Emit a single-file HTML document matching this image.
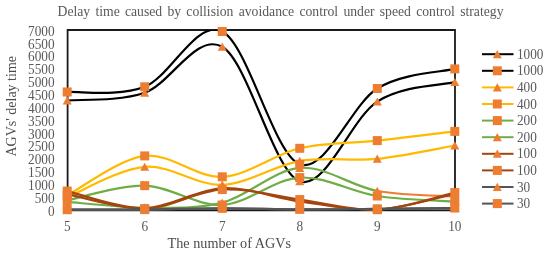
<!DOCTYPE html>
<html><head><meta charset="utf-8"><style>
html,body{margin:0;padding:0;background:#fff;}
svg{display:block;}
text{font-family:"Liberation Serif","Times New Roman",serif;}
</style></head><body>
<svg width="550" height="254" viewBox="0 0 550 254">
<rect width="550" height="254" fill="#fff"/>
<text x="57.5" y="16.1" font-size="13.7" word-spacing="1.8" fill="#595959">Delay time caused by collision avoidance control under speed control strategy</text>
<g font-size="14" fill="#595959" text-anchor="end">
<text transform="translate(54.6,215.80) scale(0.95,1)">0</text>
<text transform="translate(54.6,202.93) scale(0.95,1)">500</text>
<text transform="translate(54.6,190.07) scale(0.95,1)">1000</text>
<text transform="translate(54.6,177.20) scale(0.95,1)">1500</text>
<text transform="translate(54.6,164.34) scale(0.95,1)">2000</text>
<text transform="translate(54.6,151.47) scale(0.95,1)">2500</text>
<text transform="translate(54.6,138.61) scale(0.95,1)">3000</text>
<text transform="translate(54.6,125.74) scale(0.95,1)">3500</text>
<text transform="translate(54.6,112.88) scale(0.95,1)">4000</text>
<text transform="translate(54.6,100.02) scale(0.95,1)">4500</text>
<text transform="translate(54.6,87.15) scale(0.95,1)">5000</text>
<text transform="translate(54.6,74.28) scale(0.95,1)">5500</text>
<text transform="translate(54.6,61.42) scale(0.95,1)">6000</text>
<text transform="translate(54.6,48.55) scale(0.95,1)">6500</text>
<text transform="translate(54.6,35.69) scale(0.95,1)">7000</text>
</g>
<g font-size="14" fill="#595959" text-anchor="middle">
<text transform="translate(67.20,231) scale(0.95,1)">5</text>
<text transform="translate(144.72,231) scale(0.95,1)">6</text>
<text transform="translate(222.24,231) scale(0.95,1)">7</text>
<text transform="translate(299.76,231) scale(0.95,1)">8</text>
<text transform="translate(377.28,231) scale(0.95,1)">9</text>
<text transform="translate(454.80,231) scale(0.95,1)">10</text>
</g>
<text x="167.6" y="247.5" font-size="14.2" fill="#4d4d4d">The number of AGVs</text>
<text transform="translate(16.2,156.5) rotate(-90)" font-size="14" fill="#4d4d4d">AGVs' delay time</text>
<path d="M67.6,210.3 V30 H455.0 V210.3 Z" fill="none" stroke="#1a1a1a" stroke-width="1.8"/>
<defs><clipPath id="pa"><rect x="67.6" y="30" width="387.4" height="181"/></clipPath></defs>
<g clip-path="url(#pa)" fill="none" stroke-width="2.2" stroke-linejoin="round" stroke-linecap="round">
<path d="M67.20,100.49 C80.12,99.21 118.88,101.74 144.72,92.80 C170.56,83.85 196.40,32.07 222.24,46.82 C248.08,61.56 273.92,172.15 299.76,181.28 C325.60,190.41 351.44,118.13 377.28,101.60 C403.12,85.07 441.88,85.34 454.80,82.09" stroke="#000000"/>
<path d="M67.20,92.00 C80.12,91.13 118.88,96.88 144.72,86.80 C170.56,76.72 196.40,18.62 222.24,31.53 C248.08,44.45 273.92,154.81 299.76,164.30 C325.60,173.79 351.44,104.40 377.28,88.50 C403.12,72.60 441.88,72.16 454.80,68.89" stroke="#000000"/>
<path d="M67.20,197.23 C80.12,192.17 118.88,168.93 144.72,166.85 C170.56,164.77 196.40,185.72 222.24,184.76 C248.08,183.79 273.92,165.39 299.76,161.06 C325.60,156.73 351.44,161.39 377.28,158.79 C403.12,156.20 441.88,147.71 454.80,145.49" stroke="#FFBA00"/>
<path d="M67.20,195.43 C80.12,188.85 118.88,159.02 144.72,155.91 C170.56,152.81 196.40,178.07 222.24,176.81 C248.08,175.54 273.92,154.33 299.76,148.30 C325.60,142.26 351.44,143.42 377.28,140.60 C403.12,137.79 441.88,132.93 454.80,131.39" stroke="#FFBA00"/>
<path d="M67.20,200.32 C80.12,197.88 118.88,184.88 144.72,185.66 C170.56,186.43 196.40,206.30 222.24,204.95 C248.08,203.61 273.92,179.10 299.76,177.60 C325.60,176.11 351.44,192.00 377.28,196.00 C403.12,200.00 441.88,200.67 454.80,201.61" stroke="#70AD47"/>
<path d="M67.20,201.87 C80.12,202.81 118.88,207.40 144.72,207.53 C170.56,207.66 196.40,209.24 222.24,202.64 C248.08,196.03 273.92,169.84 299.76,167.90 C325.60,165.96 351.44,186.25 377.28,191.01" stroke="#70AD47"/>
<path d="M377.28,191.01 C403.12,195.77 441.88,195.55 454.80,196.46" stroke="#ED7D31"/>
<path d="M67.20,194.15 C80.12,196.51 118.88,209.29 144.72,208.30 C170.56,207.31 196.40,189.39 222.24,188.23 C248.08,187.07 273.92,197.79 299.76,201.35 C325.60,204.91 351.44,210.83 377.28,209.59 C403.12,208.34 441.88,196.51 454.80,193.89" stroke="#A3450E"/>
<path d="M67.20,191.06 C80.12,193.98 118.88,208.81 144.72,208.56 C170.56,208.30 196.40,191.02 222.24,189.52 C248.08,188.02 273.92,196.18 299.76,199.55 C325.60,202.92 351.44,210.87 377.28,209.71 C403.12,208.56 441.88,195.46 454.80,192.60" stroke="#A3450E"/>
<path d="M67.20,209.71 C80.12,209.69 118.88,209.82 144.72,209.59 C170.56,209.35 196.40,208.34 222.24,208.30 C248.08,208.26 273.92,209.24 299.76,209.33 C325.60,209.41 351.44,209.03 377.28,208.81 C403.12,208.60 441.88,208.17 454.80,208.04" stroke="#555555"/>
<path d="M67.20,209.71 C80.12,209.69 118.88,209.82 144.72,209.59 C170.56,209.35 196.40,208.34 222.24,208.30 C248.08,208.26 273.92,209.24 299.76,209.33 C325.60,209.41 351.44,209.03 377.28,208.81 C403.12,208.60 441.88,208.17 454.80,208.04" stroke="#555555"/>
</g>
<g fill="#ED7D31">
<path d="M67.20,96.29L71.70,104.49L62.70,104.49Z"/>
<path d="M144.72,88.60L149.22,96.80L140.22,96.80Z"/>
<path d="M222.24,42.62L226.74,50.82L217.74,50.82Z"/>
<path d="M299.76,177.08L304.26,185.28L295.26,185.28Z"/>
<path d="M377.28,97.40L381.78,105.60L372.78,105.60Z"/>
<path d="M454.80,77.89L459.30,86.09L450.30,86.09Z"/>
<rect x="62.70" y="87.50" width="9" height="9"/>
<rect x="140.22" y="82.30" width="9" height="9"/>
<rect x="217.74" y="27.03" width="9" height="9"/>
<rect x="295.26" y="159.80" width="9" height="9"/>
<rect x="372.78" y="84.00" width="9" height="9"/>
<rect x="450.30" y="64.39" width="9" height="9"/>
<path d="M67.20,193.03L71.70,201.23L62.70,201.23Z"/>
<path d="M144.72,162.65L149.22,170.85L140.22,170.85Z"/>
<path d="M222.24,180.56L226.74,188.76L217.74,188.76Z"/>
<path d="M299.76,156.86L304.26,165.06L295.26,165.06Z"/>
<path d="M377.28,154.59L381.78,162.79L372.78,162.79Z"/>
<path d="M454.80,141.29L459.30,149.49L450.30,149.49Z"/>
<rect x="62.70" y="190.93" width="9" height="9"/>
<rect x="140.22" y="151.41" width="9" height="9"/>
<rect x="217.74" y="172.31" width="9" height="9"/>
<rect x="295.26" y="143.80" width="9" height="9"/>
<rect x="372.78" y="136.10" width="9" height="9"/>
<rect x="450.30" y="126.89" width="9" height="9"/>
<rect x="62.70" y="195.82" width="9" height="9"/>
<rect x="140.22" y="181.16" width="9" height="9"/>
<rect x="217.74" y="200.45" width="9" height="9"/>
<rect x="295.26" y="173.10" width="9" height="9"/>
<rect x="372.78" y="191.50" width="9" height="9"/>
<rect x="450.30" y="197.11" width="9" height="9"/>
<path d="M67.20,197.67L71.70,205.87L62.70,205.87Z"/>
<path d="M144.72,203.33L149.22,211.53L140.22,211.53Z"/>
<path d="M222.24,198.44L226.74,206.64L217.74,206.64Z"/>
<path d="M299.76,163.70L304.26,171.90L295.26,171.90Z"/>
<path d="M377.28,186.81L381.78,195.01L372.78,195.01Z"/>
<path d="M454.80,192.26L459.30,200.46L450.30,200.46Z"/>
<path d="M67.20,189.95L71.70,198.15L62.70,198.15Z"/>
<path d="M144.72,204.10L149.22,212.30L140.22,212.30Z"/>
<path d="M222.24,184.03L226.74,192.23L217.74,192.23Z"/>
<path d="M299.76,197.15L304.26,205.35L295.26,205.35Z"/>
<path d="M377.28,205.39L381.78,213.59L372.78,213.59Z"/>
<path d="M454.80,189.69L459.30,197.89L450.30,197.89Z"/>
<rect x="62.70" y="186.56" width="9" height="9"/>
<rect x="140.22" y="204.06" width="9" height="9"/>
<rect x="217.74" y="185.02" width="9" height="9"/>
<rect x="295.26" y="195.05" width="9" height="9"/>
<rect x="372.78" y="205.21" width="9" height="9"/>
<rect x="450.30" y="188.10" width="9" height="9"/>
<path d="M67.20,205.51L71.70,213.71L62.70,213.71Z"/>
<path d="M144.72,205.39L149.22,213.59L140.22,213.59Z"/>
<path d="M222.24,204.10L226.74,212.30L217.74,212.30Z"/>
<path d="M299.76,205.13L304.26,213.33L295.26,213.33Z"/>
<path d="M377.28,204.61L381.78,212.81L372.78,212.81Z"/>
<path d="M454.80,203.84L459.30,212.04L450.30,212.04Z"/>
<rect x="62.70" y="205.21" width="9" height="9"/>
<rect x="140.22" y="205.09" width="9" height="9"/>
<rect x="217.74" y="203.80" width="9" height="9"/>
<rect x="295.26" y="204.83" width="9" height="9"/>
<rect x="372.78" y="204.31" width="9" height="9"/>
<rect x="450.30" y="203.54" width="9" height="9"/>
</g>
<g font-size="14" fill="#595959">
<line x1="482" x2="513.5" y1="54.20" y2="54.20" stroke="#000000" stroke-width="2"/>
<path d="M497.30,50.00L501.80,58.20L492.80,58.20Z" fill="#ED7D31"/>
<text transform="translate(516.9,58.70) scale(0.95,1)">1000</text>
<line x1="482" x2="513.5" y1="70.80" y2="70.80" stroke="#000000" stroke-width="2"/>
<rect x="492.80" y="66.30" width="9" height="9" fill="#ED7D31"/>
<text transform="translate(516.9,75.30) scale(0.95,1)">1000</text>
<line x1="482" x2="513.5" y1="87.40" y2="87.40" stroke="#FFBA00" stroke-width="2"/>
<path d="M497.30,83.20L501.80,91.40L492.80,91.40Z" fill="#ED7D31"/>
<text transform="translate(516.9,91.90) scale(0.95,1)">400</text>
<line x1="482" x2="513.5" y1="104.00" y2="104.00" stroke="#FFBA00" stroke-width="2"/>
<rect x="492.80" y="99.50" width="9" height="9" fill="#ED7D31"/>
<text transform="translate(516.9,108.50) scale(0.95,1)">400</text>
<line x1="482" x2="513.5" y1="120.60" y2="120.60" stroke="#70AD47" stroke-width="2"/>
<rect x="492.80" y="116.10" width="9" height="9" fill="#ED7D31"/>
<text transform="translate(516.9,125.10) scale(0.95,1)">200</text>
<line x1="482" x2="513.5" y1="137.20" y2="137.20" stroke="#70AD47" stroke-width="2"/>
<path d="M497.30,133.00L501.80,141.20L492.80,141.20Z" fill="#ED7D31"/>
<text transform="translate(516.9,141.70) scale(0.95,1)">200</text>
<line x1="482" x2="513.5" y1="153.80" y2="153.80" stroke="#A3450E" stroke-width="2"/>
<path d="M497.30,149.60L501.80,157.80L492.80,157.80Z" fill="#ED7D31"/>
<text transform="translate(516.9,158.30) scale(0.95,1)">100</text>
<line x1="482" x2="513.5" y1="170.40" y2="170.40" stroke="#A3450E" stroke-width="2"/>
<rect x="492.80" y="165.90" width="9" height="9" fill="#ED7D31"/>
<text transform="translate(516.9,174.90) scale(0.95,1)">100</text>
<line x1="482" x2="513.5" y1="187.00" y2="187.00" stroke="#555555" stroke-width="2"/>
<path d="M497.30,182.80L501.80,191.00L492.80,191.00Z" fill="#ED7D31"/>
<text transform="translate(516.9,191.50) scale(0.95,1)">30</text>
<line x1="482" x2="513.5" y1="203.60" y2="203.60" stroke="#555555" stroke-width="2"/>
<rect x="492.80" y="199.10" width="9" height="9" fill="#ED7D31"/>
<text transform="translate(516.9,208.10) scale(0.95,1)">30</text>
</g>
</svg>
</body></html>
